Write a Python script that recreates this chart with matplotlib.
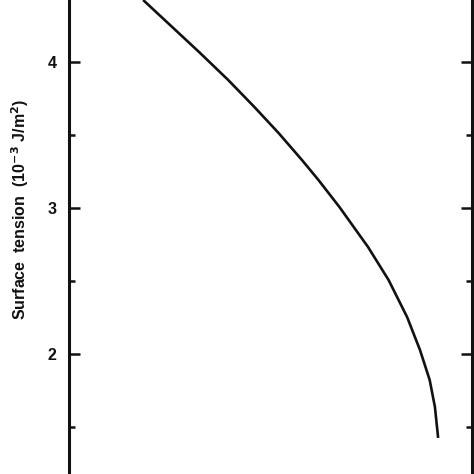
import matplotlib
matplotlib.use("Agg")
import matplotlib.pyplot as plt
from matplotlib.ticker import MultipleLocator

# ==============================
# Data
# ==============================
# x has no visible axis in the crop; values are in percent of the axis width
x_pos = [18.4, 25.1, 32.3, 39.5, 46.0, 52.0, 57.8, 61.9, 67.1, 74.2, 79.3, 83.9, 87.1, 89.5, 90.8, 91.6]
tension = [4.425, 4.253, 4.068, 3.877, 3.692, 3.514, 3.329, 3.192, 3.007, 2.733, 2.507, 2.253, 2.027, 1.822, 1.637, 1.425]
y_ticks = [2, 3, 4]

plt.rcParams['font.family'] = ['Liberation Sans', 'DejaVu Sans']
plt.rcParams['font.weight'] = 'bold'

fig = plt.figure(figsize=(4.74, 4.74), dpi=100)
ax = fig.add_axes([69 / 474, 0, (472 - 69) / 474, 1])

ax.plot(x_pos, tension, color='#111111', lw=1.9, solid_capstyle='butt',
        solid_joinstyle='round')

ax.set_xlim(0, 100)
ax.set_ylim(1.178, 4.425)

ax.yaxis.set_major_locator(MultipleLocator(1))
ax.yaxis.set_minor_locator(MultipleLocator(0.5))
ax.set_yticks(y_ticks)
ax.set_yticklabels([str(t) for t in y_ticks], fontsize=11.5, fontweight='bold')
ax.tick_params(axis='y', which='major', direction='in', length=8, width=1.8,
               right=True, pad=9, colors='#111111')
ax.tick_params(axis='y', which='minor', direction='in', length=4.3, width=1.8,
               right=True, colors='#111111')
ax.set_xticks([])

for s in ['top', 'bottom']:
    ax.spines[s].set_visible(False)
for s in ['left', 'right']:
    ax.spines[s].set_linewidth(2.2)
    ax.spines[s].set_color('#111111')

fig.text(20 / 474, 1 - 209 / 474, r'Surface  tension  (10$^{-3}$ J/m$^{2}$)',
         rotation=90, ha='center', va='center', fontsize=11.5, fontweight='bold',
         color='#111111')

fig.savefig("out.png", dpi=100)
